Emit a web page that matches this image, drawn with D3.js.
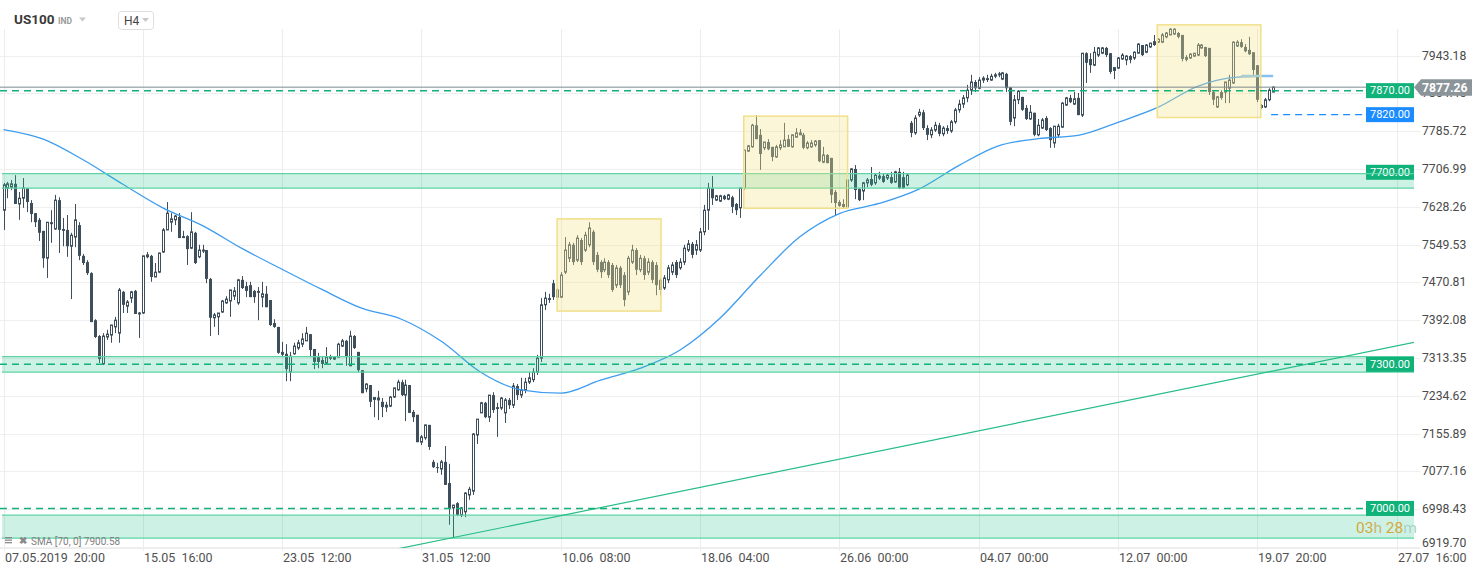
<!DOCTYPE html>
<html>
<head>
<meta charset="utf-8">
<script src="https://cdn.jsdelivr.net/npm/d3@7"></script>
<style>
  html, body { margin: 0; padding: 0; background: #fff; }
  svg { display: block; font-family: Roboto, "Noto Sans", sans-serif; }
</style>
</head>
<body>
<div id="chart"></div>
<script>
// US100 H4 candles, 07.05.2019 20:00 onwards (one entry per 4h bar)
var opens = [
  7621,7667,7669,7676,7634,7646,7667,7636,7615,7601, 7578,7521,7596,7582,7642,7582,7580,7546,7565,7590,
  7526,7513,7490,7392,7359,7301,7357,7361,7378,7365, 7451,7421,7438,7453,7405,7407,7524,7526,7482,7492,
  7534,7580,7596,7601,7607,7567,7567,7542,7574,7524, 7536,7538,7478,7397,7399,7409,7428,7432,7442,7428,
  7476,7463,7465,7453,7453,7440,7447,7434,7386,7378, 7326,7322,7284,7322,7334,7342,7349,7363,7332,7315,
  7309,7303,7313,7311,7315,7338,7349,7297,7359,7326, 7288,7249,7257,7232,7226,7222,7211,7213,7232,7247,
  7263,7236,7257,7201,7195,7138,7147,7174,7097,7086, 7082,7097,7053,7001,7011,6986,6993,7028,7036,7153,
  7199,7220,7190,7236,7211,7209,7199,7226,7215,7255, 7236,7247,7263,7268,7284,7313,7424,7438,7469,7440,
  7440,7492,7521,7549,7517,7559,7538,7549,7576,7528, 7513,7497,7513,7507,7465,7501,7486,7451,7513,7538,
  7497,7521,7492,7513,7507,7476,7459,7476,7492,7513, 7501,7513,7538,7551,7538,7538,7576,7621,7667,7642,
  7640,7651,7644,7648,7634,7626,7667,7744,7753,7798, 7778,7751,7763,7753,7732,7751,7753,7769,7753,7773,
  7778,7778,7751,7753,7757,7767,7721,7736,7730,7659, 7638,7634,7628,7684,7707,7665,7661,7678,7686,7678,
  7688,7692,7688,7690,7680,7701,7690,7674,7803,7782, 7819,7825,7792,7778,7788,7798,7780,7792,7786,7805,
  7830,7842,7855,7871,7888,7875,7892,7896,7892,7900, 7903,7894,7905,7877,7813,7851,7857,7834,7811,7824,
  7778,7792,7813,7792,7761,7778,7794,7840,7855,7842, 7855,7819,7948,7936,7923,7944,7948,7959,7948,7919,
  7917,7936,7934,7942,7938,7948,7965,7950,7961,7973, 7971,7971,7982,7986,7988,7990,7986,7940,7938,7942,
  7944,7959,7961,7959,7867,7836,7867,7867,7875,7886, 7963,7971,7961,7955,7950,7923,7840,7836,7851,7867
];
var highs = [
  7678,7680,7684,7694,7659,7688,7667,7642,7615,7605, 7578,7596,7621,7653,7648,7605,7611,7574,7634,7596,
  7530,7517,7492,7394,7361,7365,7372,7382,7399,7459, 7453,7434,7453,7455,7409,7526,7534,7528,7511,7532,
  7584,7638,7615,7611,7615,7578,7569,7617,7576,7549, 7549,7538,7480,7407,7407,7434,7442,7455,7461,7478,
  7484,7472,7472,7455,7461,7472,7463,7434,7394,7378, 7347,7342,7326,7345,7351,7365,7378,7363,7332,7324,
  7315,7336,7320,7317,7345,7353,7351,7370,7361,7326, 7288,7261,7257,7232,7245,7230,7222,7234,7251,7268,
  7268,7268,7257,7205,7195,7153,7174,7174,7101,7095, 7101,7130,7093,7007,7013,7003,7034,7045,7157,7186,
  7222,7222,7236,7242,7220,7232,7230,7230,7261,7259, 7272,7272,7284,7292,7320,7438,7451,7447,7476,7459,
  7492,7565,7555,7553,7569,7563,7576,7596,7580,7534, 7517,7521,7517,7511,7507,7505,7492,7526,7549,7542,
  7528,7526,7521,7517,7513,7480,7486,7507,7513,7517, 7521,7549,7559,7555,7559,7584,7632,7678,7692,7653,
  7653,7653,7655,7651,7636,7667,7748,7757,7801,7819, 7790,7763,7769,7753,7757,7767,7803,7778,7778,7792,
  7790,7782,7765,7767,7767,7767,7753,7738,7730,7663, 7642,7644,7688,7709,7715,7667,7680,7688,7711,7698,
  7701,7698,7698,7701,7703,7709,7701,7698,7807,7819, 7832,7830,7798,7794,7805,7803,7796,7798,7809,7834,
  7851,7861,7882,7903,7892,7898,7900,7903,7905,7907, 7909,7909,7907,7877,7861,7871,7857,7840,7840,7824,
  7811,7813,7817,7794,7796,7801,7846,7857,7861,7867, 7865,7948,7950,7948,7961,7961,7961,7961,7948,7919,
  7940,7948,7944,7944,7952,7969,7965,7967,7969,7986, 7979,7990,7992,8000,8000,7992,7986,7944,7948,7948,
  7969,7967,7961,7959,7871,7859,7871,7888,7903,7973, 7975,7977,7967,7982,7950,7923,7842,7855,7875,7879
];
var lows = [
  7580,7646,7663,7634,7601,7626,7617,7596,7586,7557, 7501,7480,7553,7580,7532,7546,7524,7436,7544,7517,
  7507,7486,7388,7355,7303,7299,7351,7345,7365,7345, 7407,7407,7428,7405,7355,7405,7521,7472,7482,7490,
  7532,7580,7576,7590,7563,7563,7507,7540,7509,7521, 7532,7469,7359,7378,7361,7407,7426,7399,7434,7424,
  7457,7440,7440,7428,7392,7419,7419,7380,7376,7322, 7315,7265,7265,7320,7330,7336,7349,7315,7290,7292,
  7292,7299,7309,7309,7315,7336,7297,7297,7332,7284, 7240,7242,7211,7190,7184,7190,7201,7211,7230,7245,
  7234,7182,7199,7180,7138,7132,7143,7122,7084,7074, 7070,7049,6966,6940,6984,6982,6982,7018,7028,7134,
  7199,7188,7180,7199,7149,7205,7178,7207,7209,7226, 7230,7240,7259,7263,7278,7305,7413,7428,7434,7434,
  7438,7488,7513,7507,7513,7507,7534,7544,7507,7492, 7480,7492,7480,7451,7459,7459,7421,7444,7509,7486,
  7492,7476,7486,7469,7444,7444,7455,7469,7486,7480, 7497,7507,7534,7521,7528,7534,7569,7580,7632,7640,
  7638,7642,7642,7615,7611,7605,7663,7742,7751,7769, 7705,7746,7746,7723,7730,7746,7753,7753,7751,7773,
  7778,7748,7748,7751,7753,7721,7719,7719,7636,7611, 7628,7626,7628,7680,7644,7640,7642,7669,7671,7674,
  7684,7678,7684,7676,7678,7665,7665,7671,7773,7778, 7815,7788,7767,7771,7784,7775,7775,7780,7782,7801,
  7824,7834,7846,7861,7867,7873,7886,7888,7890,7896, 7898,7892,7867,7798,7796,7842,7828,7809,7809,7775,
  7775,7790,7786,7751,7751,7773,7792,7838,7844,7840, 7819,7815,7886,7907,7921,7940,7946,7940,7905,7894,
  7915,7934,7923,7927,7934,7948,7942,7948,7959,7963, 7969,7969,7979,7986,7986,7979,7931,7931,7936,7940,
  7942,7957,7940,7861,7840,7834,7851,7844,7844,7884, 7961,7959,7950,7944,7903,7846,7832,7834,7848,7867
];
var closes = [
  7674,7676,7676,7634,7646,7667,7638,7613,7596,7574, 7521,7596,7592,7642,7580,7578,7546,7569,7601,7526,
  7511,7490,7388,7357,7311,7359,7363,7382,7392,7455, 7424,7430,7451,7405,7407,7526,7528,7482,7492,7532,
  7580,7615,7603,7609,7563,7563,7540,7576,7511,7538, 7538,7478,7397,7403,7407,7432,7436,7455,7453,7476,
  7459,7453,7440,7440,7449,7447,7419,7382,7378,7324, 7320,7290,7317,7338,7345,7353,7365,7330,7305,7305,
  7301,7315,7315,7315,7342,7349,7315,7359,7334,7288, 7240,7259,7222,7226,7230,7211,7215,7232,7251,7263,
  7236,7257,7199,7190,7138,7149,7174,7128,7086,7084, 7097,7049,7001,7007,6986,7001,7032,7040,7155,7186,
  7220,7190,7236,7205,7207,7230,7226,7215,7255,7236, 7247,7263,7272,7284,7313,7424,7438,7434,7440,7455,
  7486,7538,7549,7513,7563,7513,7569,7584,7513,7497, 7492,7513,7486,7455,7501,7465,7434,7521,7538,7497,
  7521,7486,7513,7476,7465,7455,7480,7501,7507,7486, 7513,7542,7551,7528,7549,7576,7621,7667,7646,7651,
  7651,7644,7653,7628,7621,7667,7746,7755,7798,7769, 7738,7763,7748,7732,7753,7757,7767,7753,7778,7782,
  7782,7751,7761,7761,7765,7723,7736,7719,7653,7636, 7630,7628,7684,7707,7663,7642,7678,7684,7674,7694,
  7692,7680,7694,7678,7701,7667,7667,7694,7782,7813, 7825,7792,7778,7788,7798,7780,7792,7786,7805,7830,
  7842,7855,7871,7888,7875,7892,7896,7892,7900,7903, 7905,7907,7875,7805,7851,7869,7830,7811,7825,7778,
  7798,7809,7788,7767,7796,7796,7844,7855,7846,7853, 7819,7948,7928,7923,7950,7959,7959,7944,7909,7911,
  7938,7944,7942,7934,7950,7967,7944,7965,7969,7965, 7977,7986,7990,7998,7998,7982,7936,7934,7946,7948,
  7965,7965,7942,7867,7851,7857,7855,7888,7892,7971, 7971,7961,7952,7946,7913,7851,7834,7851,7871,7877.26
];

var smaBars = [0,10,20,30,40,50,60,70,80,90,100,110,120,130,140,150,160,170,180,190,200,210,220,230,240,250,260,270,280,290,300,310,319];
var smaValues = [7789,7769,7726,7675,7626,7589,7541,7498,7456,7417,7394,7348,7283,7247,7240,7267,7292,7330,7396,7484,7565,7614,7635,7665,7714,7755,7770,7777,7804,7835,7879,7898,7900.58];
var smaLast = 7900.58;

// price axis ticks
var yTicks = [6919.70,6998.43,7077.16,7155.89,7234.62,7313.35,7392.08,7470.81,7549.53,7628.26,7706.99,7785.72,7864.45,7943.18];

// time axis: one label every 35 bars
var xTickBars = [0,35,70,105,140,175,210,245,280,315,350];
var xTickDates = ["07.05.2019","15.05","23.05","31.05","10.06","18.06","26.06","04.07","12.07","19.07","27.07"];
var xTickTimes = ["20:00","16:00","12:00","12:00","08:00","04:00","00:00","00:00","00:00","20:00","16:00"];

// support / resistance zones [low, high]
var zones = [[7667,7697],[7284,7316],[6938,6986]];
// horizontal levels
var levelValues = [7870, 7700, 7300, 7000];
var blueLevel = 7820;
var lastPrice = 7877.26;
// highlighted consolidation boxes [startBar, endBar, high, low]
var boxes = [[139.1,165.2,7603,7411],[186,212.1,7817,7625],[289.9,315.9,8007,7814]];
// trend line anchors [bar, price]
var trendLine = [[98.5,6915],[354.5,7346]];

var W = 1482, H = 574;
var plotRight = 1414, plotBottom = 548;
var candleColor = "#3e4f5b";
var green = "#10b27a";

var x = d3.scaleLinear().domain([0, 350]).range([3.5, 1396.5]);
var y = d3.scaleLinear().domain([6919.70, 7943.18]).range([547, 55.5]);

var svg = d3.select("#chart").append("svg").attr("width", W).attr("height", H);

svg.append("defs").append("clipPath").attr("id", "plot")
  .append("rect").attr("x", 0).attr("y", 0).attr("width", plotRight).attr("height", plotBottom);

// grid
var grid = svg.append("g");
grid.selectAll(".hg").data(yTicks).enter().append("line")
  .attr("x1", 0).attr("x2", 1420)
  .attr("y1", function(d) { return Math.round(y(d)) + 0.5; })
  .attr("y2", function(d) { return Math.round(y(d)) + 0.5; })
  .attr("stroke", "#efefef");
grid.selectAll(".vg").data(xTickBars).enter().append("line")
  .attr("x1", function(d) { return Math.round(x(d)) + 0.5; })
  .attr("x2", function(d) { return Math.round(x(d)) + 0.5; })
  .attr("y1", 29).attr("y2", 551)
  .attr("stroke", "#ececec");
grid.append("line").attr("x1", 0).attr("x2", 1420).attr("y1", 548.5).attr("y2", 548.5).attr("stroke", "#ececec");

var plot = svg.append("g").attr("clip-path", "url(#plot)");

// candles
var idx = d3.range(closes.length);
var cg = plot.append("g");
idx.forEach(function(i) {
  var cx = Math.round(x(i)) + 0.5;
  var o = opens[i], c = closes[i];
  cg.append("line")
    .attr("x1", cx).attr("x2", cx)
    .attr("y1", y(highs[i])).attr("y2", y(lows[i]))
    .attr("stroke", candleColor).attr("stroke-width", 1);
  var top = y(Math.max(o, c)), bot = y(Math.min(o, c));
  var hgt = Math.max(1, bot - top);
  if (c >= o) {
    cg.append("rect").attr("x", cx - 1).attr("y", top).attr("width", 2).attr("height", hgt)
      .attr("fill", "#fff").attr("stroke", candleColor).attr("stroke-width", 1);
  } else {
    cg.append("rect").attr("x", cx - 1.5).attr("y", top).attr("width", 3).attr("height", hgt)
      .attr("fill", candleColor);
  }
});

// SMA
var smaLine = d3.line()
  .x(function(d) { return x(d[0]); })
  .y(function(d) { return y(d[1]); })
  .curve(d3.curveMonotoneX);
plot.append("path")
  .datum(d3.zip(smaBars, smaValues))
  .attr("d", smaLine)
  .attr("fill", "none").attr("stroke", "#3d9cf0").attr("stroke-width", 1.3);
plot.append("line")
  .attr("x1", x(311)).attr("x2", x(319))
  .attr("y1", y(smaLast)).attr("y2", y(smaLast))
  .attr("stroke", "#86c0f2").attr("stroke-width", 2.5);

// zones over candles
var zg = plot.append("g");
zones.forEach(function(z) {
  var t = y(z[1]), b = y(z[0]);
  zg.append("rect").attr("x", 2).attr("y", t).attr("width", plotRight - 2).attr("height", b - t)
    .attr("fill", "rgba(45,200,145,0.24)");
  zg.append("line").attr("x1", 2).attr("x2", plotRight).attr("y1", t).attr("y2", t)
    .attr("stroke", "#5fd3a6").attr("stroke-width", 1.3);
  zg.append("line").attr("x1", 2).attr("x2", plotRight).attr("y1", b).attr("y2", b)
    .attr("stroke", "#5fd3a6").attr("stroke-width", 1.3);
});

// highlight boxes
boxes.forEach(function(bx) {
  plot.append("rect")
    .attr("x", x(bx[0])).attr("y", y(bx[2]))
    .attr("width", x(bx[1]) - x(bx[0])).attr("height", y(bx[3]) - y(bx[2]))
    .attr("fill", "rgba(243,229,140,0.35)")
    .attr("stroke", "#f1df8a").attr("stroke-width", 1.5);
});

// trend line
plot.append("line")
  .attr("x1", x(trendLine[0][0])).attr("y1", y(trendLine[0][1]))
  .attr("x2", x(trendLine[1][0])).attr("y2", y(trendLine[1][1]))
  .attr("stroke", "#27bd87").attr("stroke-width", 1.2);

// current price line
plot.append("line").attr("x1", 0).attr("x2", plotRight)
  .attr("y1", y(lastPrice)).attr("y2", y(lastPrice))
  .attr("stroke", "#7d8a8f").attr("stroke-width", 1);

// dashed levels
[7870, 7300, 7000].forEach(function(v) {
  svg.append("line").attr("x1", 0).attr("x2", 1366)
    .attr("y1", y(v)).attr("y2", y(v))
    .attr("stroke", green).attr("stroke-width", 1.5).attr("stroke-dasharray", "7,5");
});
svg.append("line").attr("x1", x(318.5)).attr("x2", 1366)
  .attr("y1", y(blueLevel)).attr("y2", y(blueLevel))
  .attr("stroke", "#1a8cff").attr("stroke-width", 1.3).attr("stroke-dasharray", "7,5");

// y axis labels (the 7864.45 one sits partly under the last price tag, as in the source)
svg.selectAll(".yl").data(yTicks).enter().append("text")
  .attr("x", 1422)
  .attr("y", function(d) { return Math.min(y(d), 542.5); })
  .attr("dominant-baseline", "central")
  .attr("font-size", 12.2).attr("fill", "#4a4a4a")
  .text(function(d) { return d.toFixed(2); });

// level labels
function levelLabel(v, fill) {
  svg.append("rect").attr("x", 1366).attr("y", y(v) - 7.5).attr("width", 48).attr("height", 15).attr("fill", fill);
  svg.append("text").attr("x", 1390).attr("y", y(v)).attr("dominant-baseline", "central")
    .attr("text-anchor", "middle").attr("font-size", 11).attr("fill", "#fff").text(v.toFixed(2));
}
levelValues.forEach(function(v) { levelLabel(v, green); });
levelLabel(blueLevel, "#1a8cff");

// zone line through the 7700 label
svg.append("line").attr("x1", 1366).attr("x2", plotRight).attr("y1", y(zones[0][1])).attr("y2", y(zones[0][1]))
  .attr("stroke", "#6fdcb2").attr("stroke-width", 1);

// last price tag
var lp = y(lastPrice);
svg.append("path")
  .attr("d", "M1414," + lp + " L1421," + (lp - 8) + " L1472," + (lp - 8) + " L1472," + (lp + 8.5) + " L1421," + (lp + 8.5) + " Z")
  .attr("fill", "#8b9498");
svg.append("text").attr("x", 1422).attr("y", lp + 0.5).attr("dominant-baseline", "central")
  .attr("font-size", 12.2).attr("font-weight", "bold").attr("fill", "#fff").text(lastPrice.toFixed(2));

// time axis labels
var xl = svg.selectAll(".xl").data(xTickBars).enter().append("text")
  .attr("x", function(d) { return Math.round(x(d)) + 1; })
  .attr("y", 561.5)
  .attr("font-size", 12.5).attr("fill", "#505050");
xl.append("tspan").text(function(d, i) { return xTickDates[i]; });
xl.append("tspan").attr("dx", 6).text(function(d, i) { return xTickTimes[i]; });

// countdown
var cd = svg.append("text").attr("x", 1356).attr("y", 533).attr("font-size", 15.5);
cd.append("tspan").attr("fill", "#d6a83c").text("03");
cd.append("tspan").attr("fill", "#c9b577").text("h ");
cd.append("tspan").attr("fill", "#d6a83c").text("28");
cd.append("tspan").attr("fill", "#a9d2c2").text("m");

// SMA legend
var lg = svg.append("g").attr("fill", "#8a8a8a");
[0, 2.5, 5].forEach(function(dy) {
  lg.append("rect").attr("x", 5).attr("y", 537 + dy).attr("width", 7).attr("height", 1.3);
});
lg.append("text").attr("x", 19).attr("y", 544).attr("font-size", 10).attr("font-weight", "bold").text("\u2716");
lg.append("text").attr("x", 31).attr("y", 545).attr("font-size", 10).attr("fill", "#808080")
  .text("SMA [70, 0] " + smaLast.toFixed(2));

// header
svg.append("text").attr("x", 14).attr("y", 24).attr("font-size", 13.5).attr("font-weight", "bold")
  .attr("fill", "#3a3a3a").text("US100");
svg.append("text").attr("x", 58).attr("y", 24).attr("font-size", 8.5).attr("font-weight", "bold")
  .attr("fill", "#9a9a9a").text("IND");
svg.append("path").attr("d", "M79,17.5 L86,17.5 L82.5,21.5 Z").attr("fill", "#c8c8c8");
svg.append("rect").attr("x", 118.5).attr("y", 11.5).attr("width", 35).attr("height", 18).attr("rx", 3)
  .attr("fill", "#fff").attr("stroke", "#dedede");
svg.append("text").attr("x", 124).attr("y", 25).attr("font-size", 12).attr("fill", "#444").text("H4");
svg.append("path").attr("d", "M142,18 L149,18 L145.5,22 Z").attr("fill", "#c8c8c8");
</script>
</body>
</html>
